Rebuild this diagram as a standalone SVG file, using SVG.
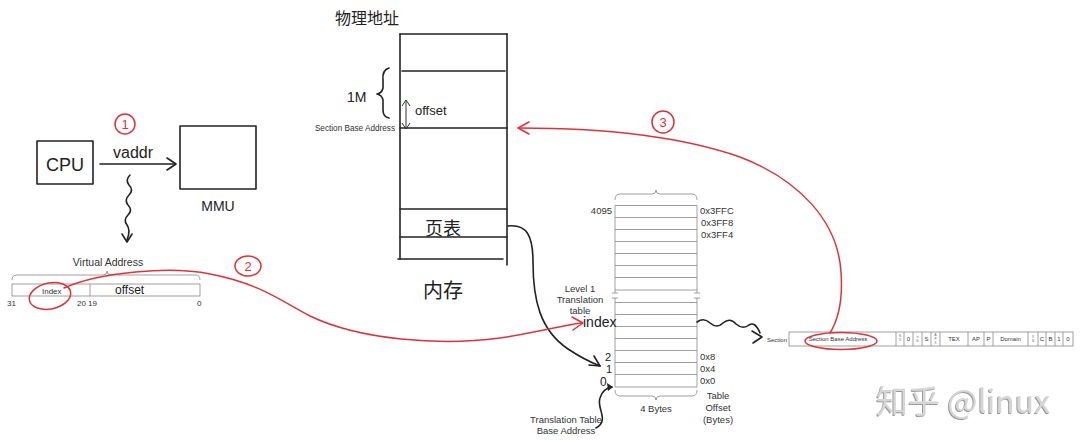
<svg xmlns="http://www.w3.org/2000/svg" width="1080" height="444" viewBox="0 0 1080 444">
<defs>
<style>
.k{fill:none;stroke:#222;stroke-width:1.6;stroke-linecap:round;stroke-linejoin:round}
.kt{fill:none;stroke:#333;stroke-width:1}
.g{fill:none;stroke:#888;stroke-width:0.8}
.r{fill:none;stroke:#e0323c;stroke-width:1.5;stroke-linecap:round;stroke-linejoin:round}
.hw{font-family:"Liberation Sans","Noto Sans CJK SC",sans-serif;fill:#222}
.cj{font-family:"Noto Sans CJK SC",sans-serif;fill:#222}
.pt{font-family:"Liberation Sans",Arial,sans-serif;fill:#333}
.rt{font-family:"Liberation Sans",sans-serif;fill:#e0323c}
.tiny{font-family:"Liberation Sans",sans-serif;fill:#555;font-size:3px}
</style>
<filter id="emb"><feDropShadow dx="-1" dy="1" stdDeviation="0.4" flood-color="#999"/></filter>
</defs>
<rect width="1080" height="444" fill="#fff"/>

<g id="cpu">
<rect class="k" x="37" y="141" width="56" height="43"/>
<text class="hw" x="65" y="171" font-size="18" text-anchor="middle">CPU</text>
</g>
<g id="mmu">
<rect class="k" x="180" y="126" width="76" height="63"/>
<text class="hw" x="218" y="211" font-size="14" text-anchor="middle">MMU</text>
</g>

<g id="virtual-address">
<text class="pt" x="108" y="266" font-size="10.5" text-anchor="middle">Virtual Address</text>
<path class="g" d="M12,280 Q12,275 17,275 L103,275 Q107,275 107,271 Q107,275 111,275 L196,275 Q200,275 200,280"/>
<rect class="g" x="12" y="284" width="188" height="12"/>
<line class="g" x1="90" y1="284" x2="90" y2="296"/>
<text class="pt" x="42" y="294" font-size="8">Index</text>
<text class="hw" x="115" y="294" font-size="12">offset</text>
<text class="pt" x="7" y="306" font-size="8">31</text>
<text class="pt" x="77" y="306" font-size="8">20 19</text>
<text class="pt" x="197" y="306" font-size="8">0</text>
</g>

<g id="memory">
<text class="cj" x="335" y="24" font-size="16">物理地址</text>
<line class="k" x1="400" y1="34" x2="507" y2="34"/>
<line class="k" x1="402" y1="71" x2="505" y2="71"/>
<line class="k" x1="400" y1="128" x2="507" y2="128"/>
<line class="k" x1="400" y1="209" x2="507" y2="209"/>
<line class="k" x1="400" y1="237" x2="507" y2="237"/>
<line class="k" x1="398" y1="259" x2="503" y2="259"/>
<line class="k" x1="400" y1="34" x2="400" y2="259"/>
<line class="k" x1="507" y1="34" x2="507" y2="265"/>
<text class="hw" x="347" y="102" font-size="14">1M</text>
<path class="k" d="M389,68 Q382,70 383,80 L383,88 Q382,93 377,94 Q382,95 383,100 L383,110 Q383,117 389,118"/>
<line class="kt" x1="406" y1="101" x2="406" y2="128"/>
<path class="kt" d="M402,106 L406,100 L410,106 M402,123 L406,129 L410,123"/>
<text class="hw" x="415" y="115" font-size="13">offset</text>
<text class="pt" x="395" y="131" font-size="8.2" text-anchor="end">Section Base Address</text>
<text class="cj" x="443" y="235" font-size="18" text-anchor="middle">页表</text>
<text class="cj" x="443" y="298" font-size="20" text-anchor="middle">内存</text>
</g>

<g id="translation-table">
<path class="g" d="M615,200 Q615,194 620,194 L652,194 Q656,194 656,190 Q656,194 660,194 L692,194 Q697,194 697,200"/>
<line class="g" x1="615" y1="205.5" x2="615" y2="293"/>
<line class="g" x1="697" y1="205.5" x2="697" y2="293"/>
<line class="g" x1="615" y1="298" x2="615" y2="387"/>
<line class="g" x1="697" y1="298" x2="697" y2="387"/>
<path class="g" d="M612,293 L618,293 M612,298 L618,298 M694,293 L700,293 M694,298 L700,298"/>
<path class="g" d="M615,205.5H697 M615,217.5H697 M615,229.5H697 M615,241.5H697 M615,253.5H697 M615,265.5H697 M615,277.5H697 M615,290H697 M615,302.5H697 M615,314.5H697 M615,326.5H697 M615,338.5H697 M615,350.5H697 M615,362.5H697 M615,374.5H697 M615,387H697"/>
<path class="g" d="M615,390 Q615,396 620,396 L652,396 Q656,396 656,400 Q656,396 660,396 L692,396 Q697,396 697,390"/>
<text class="pt" x="612" y="214" font-size="9.5" text-anchor="end">4095</text>
<text class="pt" x="700" y="214" font-size="9.5">0x3FFC</text>
<text class="pt" x="701" y="226" font-size="9.5">0x3FF8</text>
<text class="pt" x="701" y="238" font-size="9.5">0x3FF4</text>
<text class="pt" x="700" y="360" font-size="9.5">0x8</text>
<text class="pt" x="700" y="372" font-size="9.5">0x4</text>
<text class="pt" x="700" y="384" font-size="9.5">0x0</text>
<text class="pt" x="718" y="399" font-size="9.5" text-anchor="middle">Table</text>
<text class="pt" x="718" y="411" font-size="9.5" text-anchor="middle">Offset</text>
<text class="pt" x="718" y="423" font-size="9.5" text-anchor="middle">(Bytes)</text>
<text class="pt" x="656" y="412" font-size="9.5" text-anchor="middle">4 Bytes</text>
<text class="pt" x="580" y="292" font-size="9.5" text-anchor="middle">Level 1</text>
<text class="pt" x="580" y="303" font-size="9.5" text-anchor="middle">Translation</text>
<text class="pt" x="580" y="314" font-size="9.5" text-anchor="middle">table</text>
<text class="hw" x="583" y="327" font-size="14">index</text>
<text class="hw" x="605" y="361" font-size="11">2</text>
<text class="hw" x="606" y="373" font-size="11">1</text>
<text class="hw" x="600" y="386" font-size="12">0</text>
<text class="pt" x="566" y="423" font-size="9.5" text-anchor="middle">Translation Table</text>
<text class="pt" x="566" y="434" font-size="9.5" text-anchor="middle">Base Address</text>
</g>

<g id="section-descriptor">
<text class="pt" x="787" y="342" font-size="6" text-anchor="end">Section</text>
<rect class="g" x="789" y="332" width="284" height="14"/>
<path class="g" d="M896,332V346 M904,332V346 M913,332V346 M922,332V346 M931,332V346 M940,332V346 M968,332V346 M984,332V346 M993,332V346 M1028,332V346 M1038,332V346 M1046,332V346 M1055,332V346 M1063,332V346"/>
<text class="pt" x="838" y="341" font-size="6" text-anchor="middle">Section Base Address</text>
<text class="tiny" x="900" y="337" text-anchor="middle">N</text><text class="tiny" x="900" y="341" text-anchor="middle">S</text>
<text class="pt" x="908.5" y="341" font-size="6" text-anchor="middle">0</text>
<text class="tiny" x="917.5" y="338" text-anchor="middle">n</text><text class="tiny" x="917.5" y="342" text-anchor="middle">G</text>
<text class="pt" x="926.5" y="341" font-size="6" text-anchor="middle">S</text>
<text class="tiny" x="935.5" y="336" text-anchor="middle">A</text><text class="tiny" x="935.5" y="340" text-anchor="middle">P</text><text class="tiny" x="935.5" y="344" text-anchor="middle">X</text>
<text class="pt" x="954" y="341" font-size="6" text-anchor="middle">TEX</text>
<text class="pt" x="976" y="341" font-size="6" text-anchor="middle">AP</text>
<text class="pt" x="988.5" y="341" font-size="6" text-anchor="middle">P</text>
<text class="pt" x="1010.5" y="341" font-size="6" text-anchor="middle">Domain</text>
<text class="tiny" x="1033" y="338" text-anchor="middle">X</text><text class="tiny" x="1033" y="342" text-anchor="middle">N</text>
<text class="pt" x="1042" y="341" font-size="6" text-anchor="middle">C</text>
<text class="pt" x="1050.5" y="341" font-size="6" text-anchor="middle">B</text>
<text class="pt" x="1059" y="341" font-size="6" text-anchor="middle">1</text>
<text class="pt" x="1068" y="341" font-size="6" text-anchor="middle">0</text>
</g>

<g id="connectors">
<line class="k" x1="100" y1="164" x2="175" y2="164"/>
<path class="k" d="M167,158 L176,164 L167,170"/>
<text class="hw" x="113" y="158" font-size="16">vaddr</text>
<path class="k" d="M130,175 q-5,5 -1,10 q5,5 0,10 q-5,5 -1,10 q5,5 0,10 q-5,5 -1,10 q4,5 0,15"/>
<path class="k" d="M122,234 L127,242 L132,234"/>
<path class="k" d="M508,226 C527,224 533,236 533,262 C533,300 540,330 568,349 C580,357 590,362 600,366"/>
<path class="k" d="M589,365 L600,366 L594,356"/>
<path class="k" d="M596,428 C610,420 596,408 600,398 C602,391 606,388 612,387"/>
<path d="M613,387 L607,383 L608,391 Z" fill="#222"/>
<path class="k" d="M697,322 q7,-5 13,1 q7,6 13,0 q7,-6 13,1 q7,6 13,1 q6,-4 11,8"/>
<path class="k" d="M752,331 L762,337 L753,343"/>
<ellipse class="r" cx="50" cy="296" rx="21" ry="13" transform="rotate(-12 50 296)"/>
<path class="r" d="M64,288 C100,272 170,266 210,274 C258,283 280,300 310,316 C360,340 440,346 500,338 C540,332 560,326 581,323"/>
<path class="r" d="M572,317 L583,323 L573,330"/>
<ellipse class="r" cx="841" cy="341" rx="36" ry="8.5"/>
<path class="r" d="M830,333 C838,320 843,300 841,272 C838,222 800,180 740,157 C680,136 600,128 519,128"/>
<path class="r" d="M529,122 L518,128 L529,134"/>
<circle class="r" cx="125" cy="124" r="10"/>
<text class="rt" x="125" y="129" font-size="13" text-anchor="middle">1</text>
<ellipse class="r" cx="248" cy="266" rx="13" ry="10"/>
<text class="rt" x="248" y="271" font-size="13" text-anchor="middle">2</text>
<circle class="r" cx="663" cy="122" r="11"/>
<text class="rt" x="663" y="127" font-size="13" text-anchor="middle">3</text>
</g>

<text x="876" y="413" font-family="Noto Sans CJK SC,sans-serif" font-size="32" fill="#d6d6d6" filter="url(#emb)">知乎 @linux</text>
</svg>
